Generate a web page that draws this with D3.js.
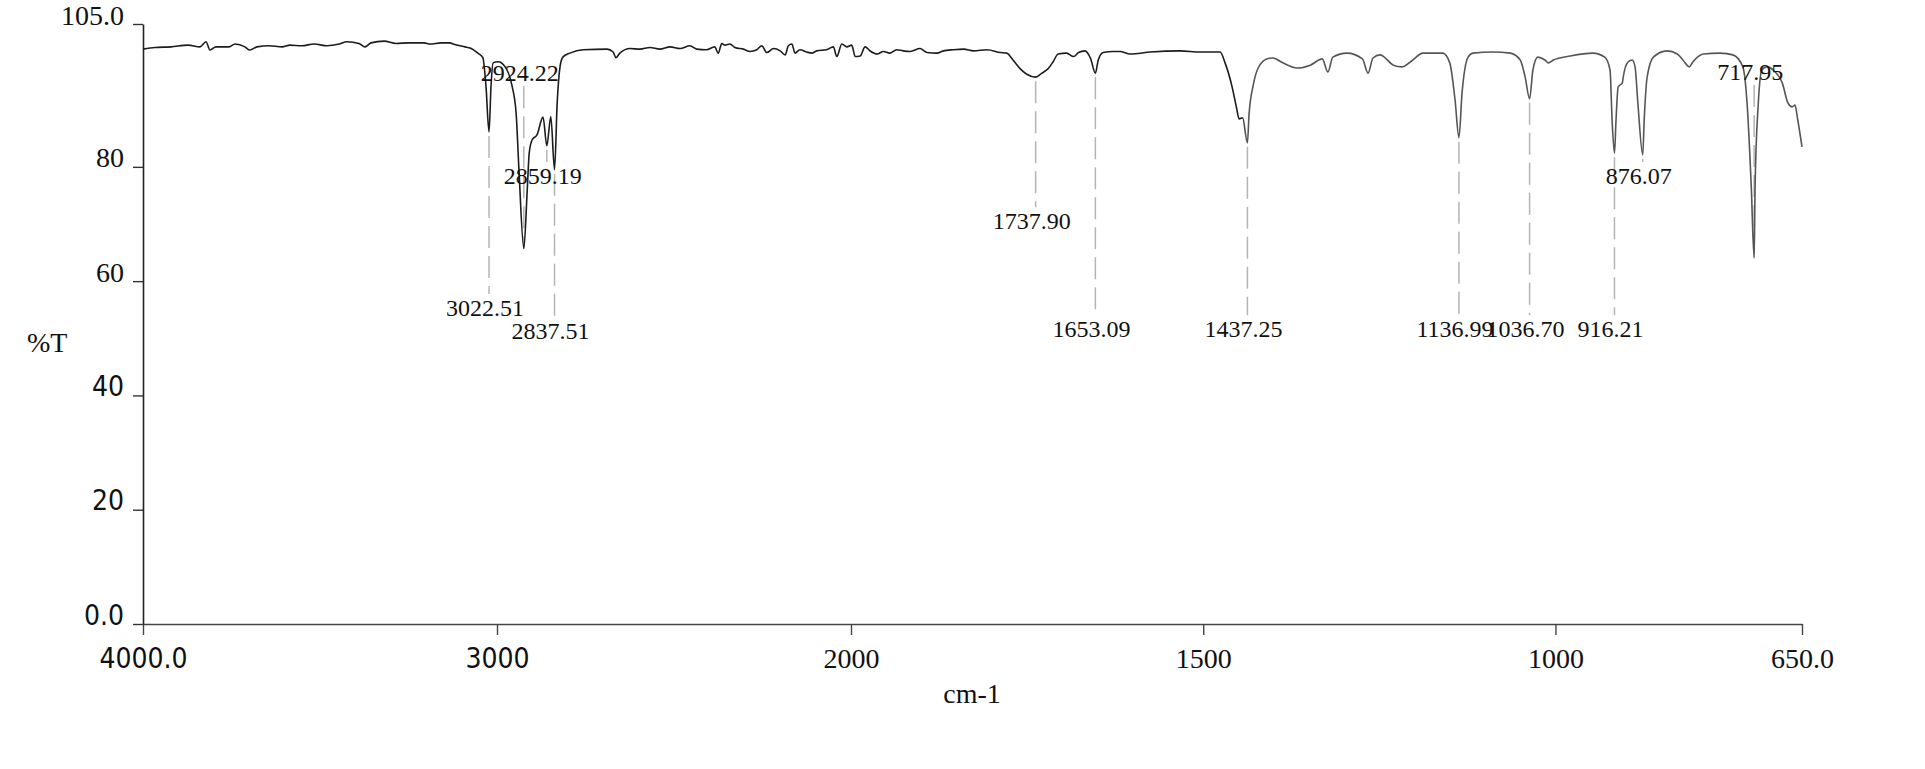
<!DOCTYPE html>
<html>
<head>
<meta charset="utf-8">
<script src="https://cdn.jsdelivr.net/npm/d3@7"></script>
<style>
  html, body { margin: 0; padding: 0; background: #fff; }
  svg text { fill: #111; }
</style>
</head>
<body>
<div id="spectre"></div>
<script>
// IR spectrum, %T vs cm-1, with split scale at 2000 cm-1

const largeur = 1925, hauteur = 769;
const SERIF  = '"Liberation Serif", "DejaVu Serif", serif';
const NARROW = '"Liberation Sans Narrow", "DejaVu Sans Condensed", "Liberation Sans", sans-serif';

// spectrum: wavenumber (cm-1) and transmittance (%T)
const nombreOnde = [
  4000, 3966, 3921, 3873, 3839, 3822, 3811, 3794, 3757, 3740, 3712, 3698, 3678, 3644, 3607, 3585,
  3551, 3517, 3480, 3446, 3424, 3390, 3373, 3356, 3319, 3285, 3251, 3206, 3189, 3158, 3133, 3124,
  3090, 3076, 3054, 3040, 3031, 3022.5, 3017, 3011, 2997, 2977, 2958, 2946, 2938, 2924.2, 2915, 2909,
  2901, 2887, 2870, 2859.2, 2848, 2837.5, 2830, 2822, 2814, 2794, 2757, 2689, 2672, 2664, 2653, 2624,
  2596, 2568, 2540, 2511, 2483, 2455, 2436, 2408, 2385, 2375, 2365, 2356, 2342, 2328, 2304, 2285,
  2266, 2252, 2238, 2219, 2200, 2186, 2177, 2167, 2158, 2144, 2125, 2111, 2097, 2069, 2050, 2040,
  2026, 2012, 1999, 1994, 1987, 1980, 1973, 1963, 1954, 1945, 1935, 1926, 1916, 1902, 1892, 1878,
  1869, 1855, 1840, 1826, 1807, 1788, 1779, 1770, 1760, 1751, 1737.9, 1729, 1720, 1713, 1706, 1694,
  1684, 1677, 1668, 1660, 1653.1, 1649, 1642, 1628, 1618, 1604, 1575, 1533, 1504, 1476, 1469, 1459,
  1453, 1449, 1444, 1437.25, 1435, 1429, 1422, 1409, 1401, 1387, 1367, 1348, 1331, 1323, 1316, 1296,
  1274, 1266, 1259, 1249, 1230, 1218, 1206, 1188, 1160, 1150, 1142.5, 1137, 1132.6, 1124, 1117, 1089,
  1064, 1050, 1043, 1036.7, 1032, 1025, 1015, 1010, 1003, 979, 947, 930, 922.5, 919.6, 916.2, 914,
  911, 905, 904, 897, 891, 887, 883, 876.1, 874, 870, 861, 841.5, 827, 819, 810, 805,
  790, 766, 748, 734, 728, 722, 717.95, 716.6, 712, 707, 700, 688, 678, 670, 664, 660,
  656, 650
];
const transmittance = [
  100.6, 100.9, 101.0, 101.3, 101.0, 101.9, 100.45, 101.0, 101.0, 101.5, 101.0, 100.45, 101.0, 101.2, 101.0, 101.3,
  101.2, 101.5, 101.2, 101.5, 101.9, 101.6, 101.0, 101.7, 102.0, 101.6, 101.7, 101.7, 101.5, 101.7, 101.7, 101.5,
  101.0, 100.8, 99.9, 99.1, 94.0, 86.1, 94.0, 98.2, 98.4, 97.5, 94.3, 89.4, 79.5, 65.7, 75.4, 82.4,
  84.7, 85.6, 88.7, 83.7, 88.8, 79.5, 91.2, 97.5, 99.2, 99.9, 100.5, 100.6, 100.1, 99.1, 99.9, 100.7,
  100.6, 100.9, 100.6, 101.0, 100.7, 101.2, 100.6, 100.5, 101.0, 99.9, 101.6, 101.3, 101.5, 100.9, 100.6, 100.2,
  100.5, 101.2, 100.0, 100.7, 100.3, 99.6, 101.2, 101.5, 99.9, 100.5, 100.1, 99.9, 100.3, 100.5, 101.0, 99.3,
  101.5, 101.0, 101.3, 99.3, 99.4, 101.0, 100.3, 99.75, 100.2, 99.9, 100.5, 100.3, 100.2, 100.7, 100.0, 99.9,
  100.3, 100.5, 100.6, 100.3, 100.5, 100.0, 99.9, 98.7, 97.2, 96.25, 95.7, 96.4, 97.2, 98.4, 99.75, 99.9,
  99.3, 100.0, 100.3, 99.0, 96.4, 98.7, 100.0, 100.2, 100.2, 99.75, 100.1, 100.3, 100.1, 100.1, 98.2, 94.0,
  90.5, 88.4, 88.6, 84.2, 89.1, 94.3, 97.3, 98.9, 99.05, 98.2, 97.3, 97.8, 98.9, 96.6, 99.2, 99.9,
  98.9, 96.4, 99.05, 99.6, 97.8, 97.5, 98.35, 99.9, 99.9, 98.2, 91.7, 85.1, 92.9, 99.2, 99.9, 100.1,
  99.9, 98.7, 95.7, 91.9, 96.95, 99.2, 98.7, 98.2, 98.7, 99.4, 99.9, 99.2, 96.95, 88.2, 82.4, 88.2,
  94.0, 94.7, 95.55, 98.35, 98.7, 97.5, 91.2, 82.1, 88.2, 95.55, 99.2, 100.3, 99.75, 98.7, 97.5, 98.35,
  99.75, 99.9, 99.6, 97.5, 91.2, 76.5, 64.05, 76.5, 91.2, 96.95, 97.5, 96.6, 94.7, 91.2, 90.5, 90.8,
  88.2, 83.5
];

// annotated peaks
const picNombreOnde = [3022.51, 2924.22, 2859.19, 2837.51, 1737.90, 1653.09, 1437.25, 1136.99, 1036.70, 916.21, 876.07, 717.95];
const picTransmittance = [86.1, 65.7, 83.7, 79.5, 95.7, 96.4, 84.2, 85.1, 91.9, 82.4, 82.1, 64.05];
const picTexte = ["3022.51", "2924.22", "2859.19", "2837.51", "1737.90", "1653.09", "1437.25", "1136.99", "1036.70", "916.21", "876.07", "717.95"];
// level (in %T) of each label baseline, and whether it sits above its peak
const picNiveau = [53.9, 95.0, 77.0, 49.9, 69.1, 50.2, 50.2, 50.2, 50.2, 50.2, 77.0, 95.2];
const picDessus = [false, true, false, false, false, false, false, false, false, false, false, true];

// axes
const ticksX = [4000, 3000, 2000, 1500, 1000, 650];
const ticksXTexte = ["4000.0", "3000", "2000", "1500", "1000", "650.0"];
const ticksY = [0, 20, 40, 60, 80, 105];
const ticksYTexte = ["0.0", "20", "40", "60", "80", "105.0"];
// the scan mixes two typefaces in the tick labels
const ticksXNarrow = [true, true, false, false, false, false];
const ticksYNarrow = [true, true, true, false, false, false];

const x = d3.scaleLinear().domain([4000, 2000, 650]).range([143, 851, 1802]);
const y = d3.scaleLinear().domain([0, 105]).range([624, 24]);

const svg = d3.select("#spectre").append("svg")
    .attr("width", largeur).attr("height", hauteur)
    .style("display", "block");

svg.append("rect").attr("width", largeur).attr("height", hauteur).attr("fill", "#fff");

// stroke goes a little lighter right of the 1437 band (as in the scan)
const grad = svg.append("defs").append("linearGradient")
    .attr("id", "trait").attr("gradientUnits", "userSpaceOnUse")
    .attr("x1", x(4000)).attr("x2", x(650)).attr("y1", 0).attr("y2", 0);
const coupe = (x(1445) - x(4000)) / (x(650) - x(4000));
grad.append("stop").attr("offset", coupe).attr("stop-color", "#1c1c1c");
grad.append("stop").attr("offset", coupe + 0.002).attr("stop-color", "#555");
grad.append("stop").attr("offset", 1).attr("stop-color", "#555");

// x axis
const axeX = svg.append("g")
    .attr("transform", `translate(0,${y(0)})`)
    .call(d3.axisBottom(x).tickValues(ticksX).tickSize(11).tickSizeOuter(0)
        .tickFormat((d, i) => ticksXTexte[i]));
axeX.select(".domain").attr("stroke", "#444").attr("stroke-width", 1.6);
axeX.selectAll(".tick line").attr("stroke", "#444").attr("stroke-width", 1.4);
axeX.selectAll(".tick text")
    .style("font-family", d => ticksXNarrow[ticksX.indexOf(d)] ? NARROW : SERIF)
    .attr("y", 44).attr("dy", 0)
    .style("font-size", "28px").attr("fill", "#111");

// y axis
const axeY = svg.append("g")
    .attr("transform", `translate(${x(4000)},0)`)
    .call(d3.axisLeft(y).tickValues(ticksY).tickSize(10).tickPadding(9).tickSizeOuter(0)
        .tickFormat((d, i) => ticksYTexte[i]));
axeY.select(".domain").attr("stroke", "#222").attr("stroke-width", 1.6);
axeY.selectAll(".tick line").attr("stroke", "#333").attr("stroke-width", 1.4);
axeY.selectAll(".tick text")
    .style("font-family", d => ticksYNarrow[ticksY.indexOf(d)] ? NARROW : SERIF)
    .attr("dy", 0)
    .style("font-size", "28px").attr("fill", "#111");

// axis titles
svg.append("text").style("font-family", SERIF)
    .attr("x", 27).attr("y", 352)
    .style("font-size", "28px").text("%T");
svg.append("text").style("font-family", SERIF)
    .attr("x", 972).attr("y", 703).attr("text-anchor", "middle")
    .style("font-size", "28px").text("cm-1");

// leader lines to peak labels
const pics = picNombreOnde.map((w, i) => ({
  w, t: picTransmittance[i], texte: picTexte[i], niveau: picNiveau[i], dessus: picDessus[i]
}));

svg.append("g").selectAll("line")
  .data(pics).join("line")
    .attr("x1", d => x(d.w)).attr("x2", d => x(d.w))
    .attr("y1", d => d.dessus ? y(d.niveau) + 5 : y(d.t) + 4)
    .attr("y2", d => d.dessus ? y(d.t) : y(d.niveau) - 22)
    .attr("stroke", "#b4b4b4").attr("stroke-width", 1.5)
    .attr("stroke-dasharray", "22,8");

// spectrum
const points = nombreOnde.map((w, i) => [w, transmittance[i]]);
const ligne = d3.line().x(d => x(d[0])).y(d => y(d[1])).curve(d3.curveMonotoneX);

svg.append("path")
    .datum(points)
    .attr("d", ligne)
    .attr("fill", "none")
    .attr("stroke", "url(#trait)")
    .attr("stroke-width", 1.6)
    .attr("stroke-linejoin", "round");

// peak labels
svg.append("g").selectAll("text")
  .data(pics).join("text")
    .style("font-family", SERIF)
    .attr("x", d => x(d.w) - 4)
    .attr("y", d => y(d.niveau))
    .attr("text-anchor", "middle")
    .style("font-size", "24px")
    .text(d => d.texte);
</script>
</body>
</html>
